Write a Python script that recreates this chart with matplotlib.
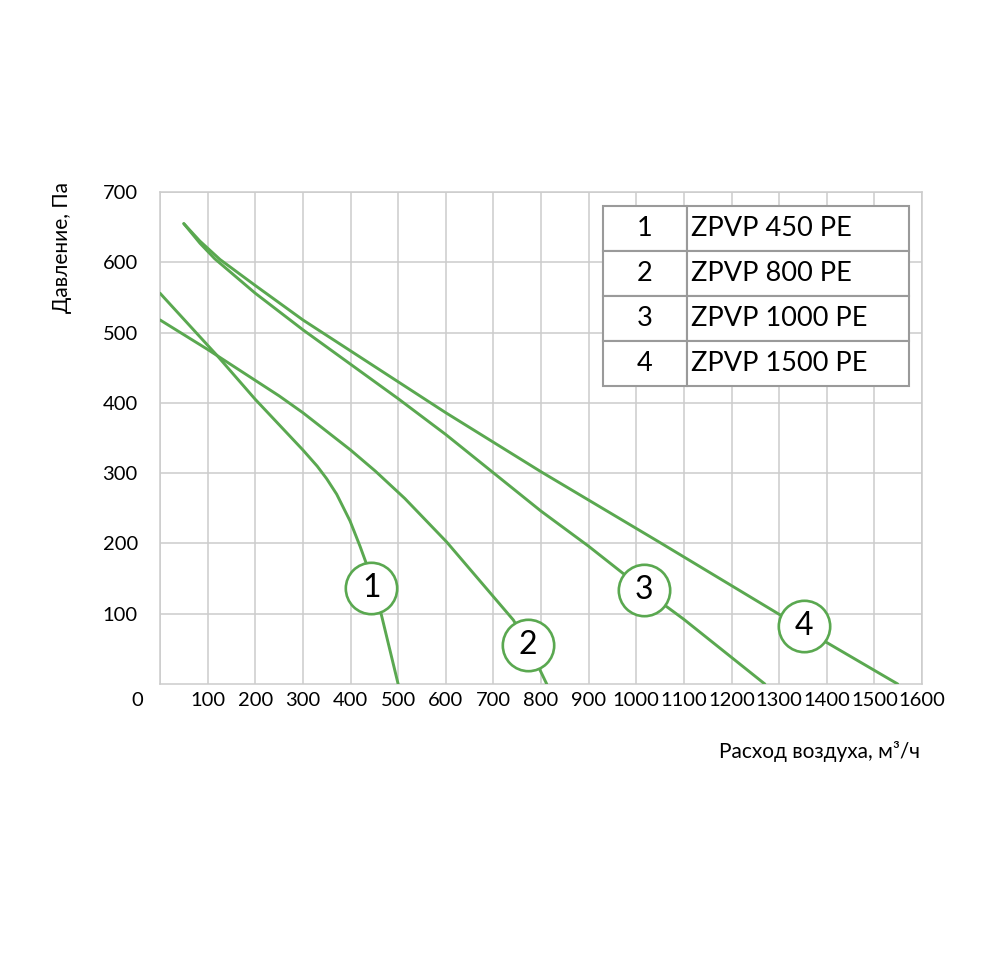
import matplotlib
matplotlib.use("Agg")
import matplotlib.pyplot as plt
import matplotlib.transforms as mtransforms

plt.rcParams['font.family'] = ['Lato', 'DejaVu Sans']

# curves (air flow m3/h, pressure Pa)
x1 = [0, 100, 119, 200, 300, 330, 350, 371, 399, 420, 434, 465, 500]
y1 = [556, 482, 468, 405, 333, 310, 292, 270, 232, 196, 170, 98, 0]

x2 = [0, 100, 200, 250, 300, 400, 452, 514, 602, 742, 773, 812]
y2 = [518, 476, 432, 410, 386, 333, 303, 264, 202, 91, 55, 0]

x3 = [50, 84, 115, 200, 300, 500, 600, 800, 900, 1016, 1100, 1270]
y3 = [655, 627, 605, 556, 504, 406, 355, 246, 196, 134, 92, 0]

x4 = [50, 84, 126, 200, 300, 500, 600, 800, 924, 1048, 1298, 1352, 1549]
y4 = [655, 630, 604, 567, 518, 430, 386, 302, 252, 202, 100, 78, 0]

curve_ids = ["1", "2", "3", "4"]
label_x = [444, 773, 1016, 1352]
label_y = [136, 55, 134, 82]
models = ["ZPVP 450 PE", "ZPVP 800 PE", "ZPVP 1000 PE", "ZPVP 1500 PE"]

xticks = list(range(100, 1700, 100))
yticks = list(range(100, 800, 100))

green = "#5aa850"
grid_c = "#cccccc"

fig = plt.figure(figsize=(10, 9.6), dpi=100)
ax = fig.add_axes([0.16, 0.2875, 0.762, 0.5125])

for xs, ys in [(x1, y1), (x2, y2), (x3, y3), (x4, y4)]:
    ax.plot(xs, ys, color=green, lw=2.1, solid_capstyle='round',
            solid_joinstyle='round', zorder=3)

# numbered circles on the curves
ax.plot(label_x, label_y, 'o', ms=37, mfc='white', mec=green, mew=1.9, zorder=4)
for cid, lx, ly in zip(curve_ids, label_x, label_y):
    ax.text(lx, ly, cid, fontsize=23, ha='center', va='center', zorder=5)

ax.set_xlim(0, 1600)
ax.set_ylim(0, 700)
ax.set_xticks([0] + xticks)
ax.set_xticklabels(["0"] + [str(v) for v in xticks])
ax.set_yticks(yticks)
ax.set_yticklabels([str(v) for v in yticks])
ax.tick_params(length=0, labelsize=14.5)
ax.tick_params(axis='x', pad=6)
ax.tick_params(axis='y', pad=16)
ax.grid(True, color=grid_c, lw=1.1)
ax.set_axisbelow(True)
for s in ax.spines.values():
    s.set_color(grid_c)
    s.set_linewidth(1.1)

# shift the "0" label to the corner
zero = ax.get_xticklabels()[0]
zero.set_transform(zero.get_transform() +
                   mtransforms.ScaledTranslation(-0.225, 0, fig.dpi_scale_trans))

ax.set_ylabel("Давление, Па", fontsize=15)
ax.yaxis.set_label_coords(-0.115, 0.888)
ax.set_xlabel("Расход воздуха, м³/ч", fontsize=15, ha='right', va='center')
ax.xaxis.set_label_coords(0.997, -0.138)

tbl = ax.table(cellText=[[c, m] for c, m in zip(curve_ids, models)],
               colWidths=[0.274, 0.726],
               bbox=[0.581, 0.606, 0.402, 0.366], zorder=6)
tbl.auto_set_font_size(False)
for (r, c), cell in tbl.get_celld().items():
    cell.set_edgecolor("#9a9a9a")
    cell.set_linewidth(1.5)
    cell.set_facecolor('white')
    cell.PAD = 0.02
    cell.get_text().set_fontsize(19.5)
    cell.get_text().set_ha('center' if c == 0 else 'left')
    if c == 1:
        cell._loc = 'left'

fig.savefig("out.png", dpi=100)
